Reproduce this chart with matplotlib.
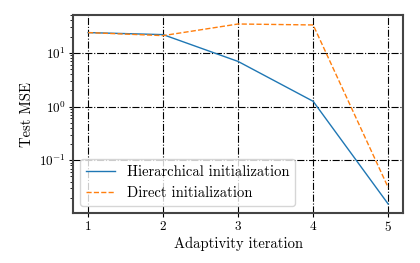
import matplotlib
matplotlib.use("Agg")
import matplotlib.pyplot as plt

iterations = [1, 2, 3, 4, 5]
hierarchical = [23.8, 21.8, 6.9, 1.25, 0.0153]
direct = [23.8, 20.9, 34.4, 33.0, 0.031]

plt.rcParams['font.family'] = 'serif'
plt.rcParams['font.serif'] = ['cmr10', 'DejaVu Serif']
plt.rcParams['mathtext.fontset'] = 'cm'
plt.rcParams['axes.formatter.use_mathtext'] = True

fig = plt.figure(figsize=(4.2, 2.63), dpi=100)
ax = fig.add_axes([0.174, 0.19, 0.786, 0.753])
ax.plot(iterations, hierarchical, color='#1f77b4', lw=1.0, label='Hierarchical initialization')
ax.plot(iterations, direct, color='#ff7f0e', lw=1.0, ls='--', label='Direct initialization')
ax.set_yscale('log')
ax.set_xticks(iterations)
ax.grid(True, which='major', color='black', ls='-.', lw=0.8)
ax.set_xlabel('Adaptivity iteration', fontsize=10.5, labelpad=2)
ax.set_ylabel('Test MSE', fontsize=10.5, labelpad=4)
ax.tick_params(which='major', labelsize=9.5, length=3, pad=2)
ax.tick_params(which='minor', length=2)
for s in ax.spines.values():
    s.set_color('#444444')
    s.set_linewidth(1.5)
ax.legend(loc='lower left', fontsize=10.5, framealpha=0.8)
fig.savefig('out.png', dpi=100)
